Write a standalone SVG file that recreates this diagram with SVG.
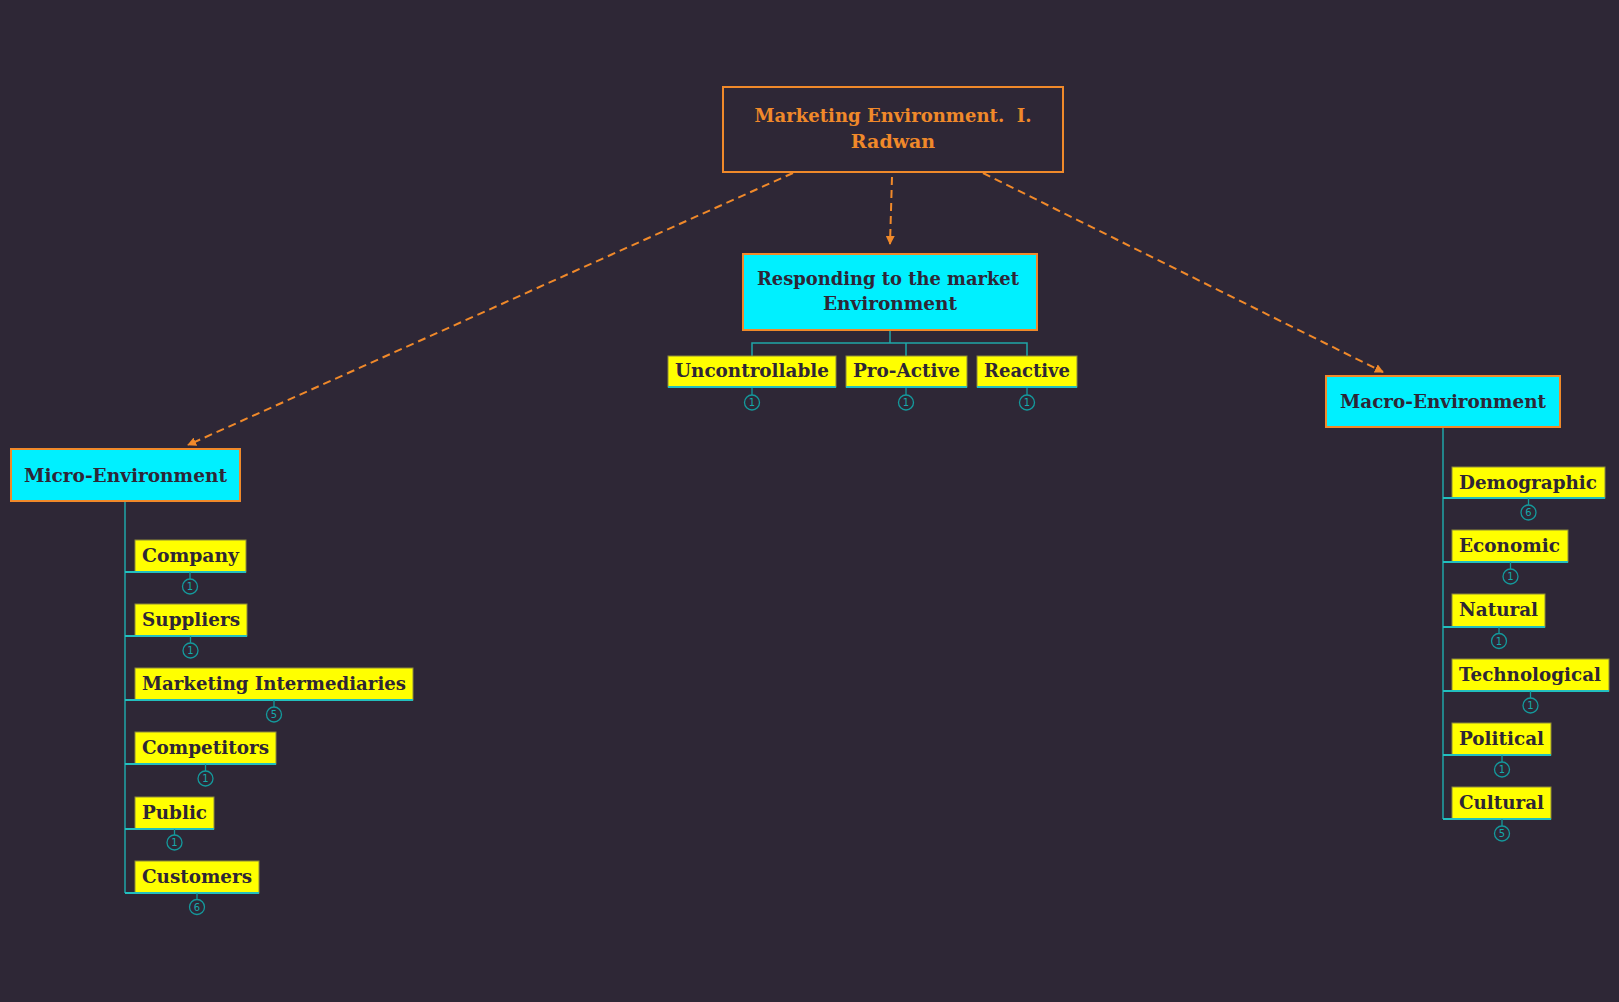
<svg xmlns="http://www.w3.org/2000/svg" width="1619" height="1002" viewBox="0 0 1619 1002">
<defs>
<marker id="ah" viewBox="0 0 10 10" refX="9" refY="5" markerWidth="9" markerHeight="9" markerUnits="userSpaceOnUse" orient="auto">
<path d="M0,0 L10,5 L0,10 z" fill="#f0892a"/>
</marker>
<style>
.bg{fill:#2e2736}
.root{fill:#2e2736;stroke:#f0892a;stroke-width:2}
.roott{font-family:"DejaVu Serif","Liberation Serif",serif;font-weight:bold;font-size:19px;fill:#f0892a;text-anchor:middle}
.main{fill:#00f0ff;stroke:#f0892a;stroke-width:2}
.maint{font-family:"DejaVu Serif","Liberation Serif",serif;font-weight:bold;font-size:18.5px;fill:#2e2636;text-anchor:middle}
.leaf{fill:#ffff00;stroke:#8c8a3a;stroke-width:1}
.leaft{font-family:"DejaVu Serif","Liberation Serif",serif;font-weight:bold;font-size:19px;fill:#2e2636}
.dash{fill:none;stroke:#f0892a;stroke-width:2;stroke-dasharray:8,5}
.tr{fill:none;stroke:#1fa6a8;stroke-width:1.5}
.ul{fill:none;stroke:#22bfbf;stroke-width:2}
.bd{fill:none;stroke:#14999c;stroke-width:1.3}
.bdt{font-family:"DejaVu Sans","Liberation Sans",sans-serif;font-size:10px;fill:#17a8ab;text-anchor:middle}
</style>
</defs>
<rect class="bg" x="0" y="0" width="1619" height="1002"/>

<g id="connectors">
<path class="dash" d="M793,173 L188,445" marker-end="url(#ah)"/>
<path class="dash" d="M892,177 L890,244" marker-end="url(#ah)"/>
<path class="dash" d="M983,173 L1383,372" marker-end="url(#ah)"/>
<path class="tr" d="M890,330 V343 M752,356 V343 H1027 V356 M906,343 V356"/>
<path class="tr" d="M125,501 V893"/>
<path class="tr" d="M1443,427 V819"/>
</g>

<g id="root">
<rect class="root" x="723" y="87" width="340" height="85"/>
<text class="roott" x="893" y="122" xml:space="preserve" textLength="277" lengthAdjust="spacingAndGlyphs">Marketing Environment.  I.</text>
<text class="roott" x="893" y="148">Radwan</text>
</g>

<g id="responding">
<rect class="main" x="743" y="254" width="294" height="76"/>
<text class="maint" x="888" y="285" textLength="262" lengthAdjust="spacingAndGlyphs">Responding to the market</text>
<text class="maint" x="890" y="310">Environment</text>
</g>

<g id="micro">
<rect class="main" x="11" y="449" width="229" height="52"/>
<text class="maint" x="125.5" y="482" textLength="203" lengthAdjust="spacingAndGlyphs">Micro-Environment</text>
</g>

<g id="macro">
<rect class="main" x="1326" y="376" width="234" height="51"/>
<text class="maint" x="1443" y="408" textLength="206" lengthAdjust="spacingAndGlyphs">Macro-Environment</text>
</g>

<g id="uncontrollable">
<rect class="leaf" x="668" y="356" width="168" height="31"/>
<path class="ul" d="M668,387 H836"/>
<text class="leaft" x="675" y="377" textLength="154" lengthAdjust="spacingAndGlyphs">Uncontrollable</text>
<path class="bd" d="M752,388 V395"/><circle class="bd" cx="752" cy="402.5" r="7.5"/><text class="bdt" x="752" y="406">1</text>
</g>
<g id="proactive">
<rect class="leaf" x="846" y="356" width="121" height="31"/>
<path class="ul" d="M846,387 H967"/>
<text class="leaft" x="853" y="377" textLength="107" lengthAdjust="spacingAndGlyphs">Pro-Active</text>
<path class="bd" d="M906,388 V395"/><circle class="bd" cx="906" cy="402.5" r="7.5"/><text class="bdt" x="906" y="406">1</text>
</g>
<g id="reactive">
<rect class="leaf" x="977" y="356" width="100" height="31"/>
<path class="ul" d="M977,387 H1077"/>
<text class="leaft" x="984" y="377" textLength="86" lengthAdjust="spacingAndGlyphs">Reactive</text>
<path class="bd" d="M1027,388 V395"/><circle class="bd" cx="1027" cy="402.5" r="7.5"/><text class="bdt" x="1027" y="406">1</text>
</g>

<g id="company">
<rect class="leaf" x="135" y="540" width="111" height="32"/>
<path class="ul" d="M125,572 H246"/>
<text class="leaft" x="142" y="562" textLength="97" lengthAdjust="spacingAndGlyphs">Company</text>
<path class="bd" d="M190,572 V579"/><circle class="bd" cx="190" cy="586.5" r="7.5"/><text class="bdt" x="190" y="590">1</text>
</g>
<g id="suppliers">
<rect class="leaf" x="135" y="604" width="112" height="32"/>
<path class="ul" d="M125,636 H247"/>
<text class="leaft" x="142" y="626" textLength="98" lengthAdjust="spacingAndGlyphs">Suppliers</text>
<path class="bd" d="M190.5,636 V643"/><circle class="bd" cx="190.5" cy="650.5" r="7.5"/><text class="bdt" x="190.5" y="654">1</text>
</g>
<g id="intermediaries">
<rect class="leaf" x="135" y="668" width="278" height="32"/>
<path class="ul" d="M125,700 H413"/>
<text class="leaft" x="142" y="690" textLength="264" lengthAdjust="spacingAndGlyphs">Marketing Intermediaries</text>
<path class="bd" d="M274,700 V707"/><circle class="bd" cx="274" cy="714.5" r="7.5"/><text class="bdt" x="274" y="718">5</text>
</g>
<g id="competitors">
<rect class="leaf" x="135" y="732" width="141" height="32"/>
<path class="ul" d="M125,764 H276"/>
<text class="leaft" x="142" y="754" textLength="127" lengthAdjust="spacingAndGlyphs">Competitors</text>
<path class="bd" d="M205.5,764 V771"/><circle class="bd" cx="205.5" cy="778.5" r="7.5"/><text class="bdt" x="205.5" y="782">1</text>
</g>
<g id="public">
<rect class="leaf" x="135" y="797" width="79" height="32"/>
<path class="ul" d="M125,829 H214"/>
<text class="leaft" x="142" y="819" textLength="65" lengthAdjust="spacingAndGlyphs">Public</text>
<path class="bd" d="M174.5,829 V835"/><circle class="bd" cx="174.5" cy="842.5" r="7.5"/><text class="bdt" x="174.5" y="846">1</text>
</g>
<g id="customers">
<rect class="leaf" x="135" y="861" width="124" height="32"/>
<path class="ul" d="M125,893 H259"/>
<text class="leaft" x="142" y="883" textLength="110" lengthAdjust="spacingAndGlyphs">Customers</text>
<path class="bd" d="M197,893 V899.5"/><circle class="bd" cx="197" cy="907" r="7.5"/><text class="bdt" x="197" y="910.5">6</text>
</g>

<g id="demographic">
<rect class="leaf" x="1452" y="467" width="153" height="31"/>
<path class="ul" d="M1443,498 H1605"/>
<text class="leaft" x="1459" y="489" textLength="138" lengthAdjust="spacingAndGlyphs">Demographic</text>
<path class="bd" d="M1528.5,498 V505"/><circle class="bd" cx="1528.5" cy="512.5" r="7.5"/><text class="bdt" x="1528.5" y="516">6</text>
</g>
<g id="economic">
<rect class="leaf" x="1452" y="530" width="116" height="32"/>
<path class="ul" d="M1443,562 H1568"/>
<text class="leaft" x="1459" y="552" textLength="101" lengthAdjust="spacingAndGlyphs">Economic</text>
<path class="bd" d="M1510.5,562 V569"/><circle class="bd" cx="1510.5" cy="576.5" r="7.5"/><text class="bdt" x="1510.5" y="580">1</text>
</g>
<g id="natural">
<rect class="leaf" x="1452" y="594" width="93" height="33"/>
<path class="ul" d="M1443,627 H1545"/>
<text class="leaft" x="1459" y="616" textLength="79" lengthAdjust="spacingAndGlyphs">Natural</text>
<path class="bd" d="M1499,627 V633.5"/><circle class="bd" cx="1499" cy="641" r="7.5"/><text class="bdt" x="1499" y="644.5">1</text>
</g>
<g id="technological">
<rect class="leaf" x="1452" y="659" width="157" height="32"/>
<path class="ul" d="M1443,691 H1609"/>
<text class="leaft" x="1459" y="681" textLength="142" lengthAdjust="spacingAndGlyphs">Technological</text>
<path class="bd" d="M1530.5,691 V698"/><circle class="bd" cx="1530.5" cy="705.5" r="7.5"/><text class="bdt" x="1530.5" y="709">1</text>
</g>
<g id="political">
<rect class="leaf" x="1452" y="723" width="99" height="32"/>
<path class="ul" d="M1443,755 H1551"/>
<text class="leaft" x="1459" y="745" textLength="85" lengthAdjust="spacingAndGlyphs">Political</text>
<path class="bd" d="M1502,755 V762"/><circle class="bd" cx="1502" cy="769.5" r="7.5"/><text class="bdt" x="1502" y="773">1</text>
</g>
<g id="cultural">
<rect class="leaf" x="1452" y="787" width="99" height="32"/>
<path class="ul" d="M1443,819 H1551"/>
<text class="leaft" x="1459" y="809" textLength="85" lengthAdjust="spacingAndGlyphs">Cultural</text>
<path class="bd" d="M1502,819 V826"/><circle class="bd" cx="1502" cy="833.5" r="7.5"/><text class="bdt" x="1502" y="837">5</text>
</g>
</svg>
